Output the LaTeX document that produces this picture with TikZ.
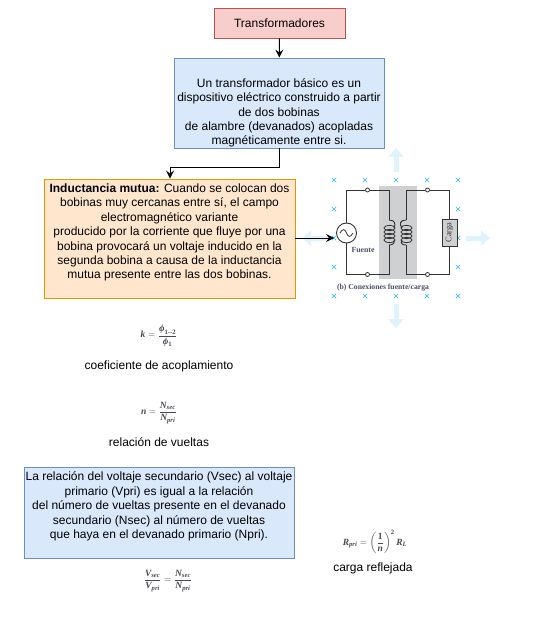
\documentclass[tikz,border=0pt]{standalone}
\usepackage{amsmath}
\usepackage{fontspec}
\setmainfont{Liberation Sans}
\newfontfamily\serifcap{Liberation Serif}
\usetikzlibrary{arrows.meta}
\definecolor{redfill}{HTML}{F8CECC}\definecolor{redline}{HTML}{B85450}
\definecolor{bluefill}{HTML}{DAE8FC}\definecolor{blueline}{HTML}{6C8EBF}
\definecolor{orfill}{HTML}{FFE6CC}\definecolor{orline}{HTML}{D79B00}
\definecolor{handle}{HTML}{29B6F2}\definecolor{hint}{HTML}{DFF3FC}
\definecolor{coregray}{HTML}{CFD0D2}\definecolor{wire}{HTML}{333333}
\definecolor{formula}{HTML}{4A4A52}\definecolor{capt}{HTML}{4A4F6A}
\tikzset{
 x=1pt,y=-1pt,
 txt/.style={font=\fontsize{12}{14.4}\selectfont,align=center,inner sep=0pt,text=black},
 boxed/.style={txt,draw,line width=0.9pt},
 conn/.style={draw=black,line width=1pt,-{Stealth[length=8pt,width=8pt,inset=3pt]}},
 wireline/.style={draw=wire,line width=0.9pt},
 term/.style={circle,draw=wire,fill=white,line width=0.8pt,minimum size=4pt,inner sep=0pt},
 handlemark/.style={draw=handle,line width=0.5pt},
 frm/.style={font=\fontsize{9.5}{11}\selectfont,text=formula,inner sep=0pt},
 coilloop/.style={draw=wire,line width=0.8pt}
}
\newcommand{\handleX}[2]{\draw[handlemark] (#1-2.2,#2-2.2)--(#1+2.2,#2+2.2) (#1-2.2,#2+2.2)--(#1+2.2,#2-2.2);}
\newcommand{\fsym}[1]{\text{\serifcap\bfseries\itshape #1}}
\newcommand{\fnum}[1]{\text{\serifcap\bfseries #1}}
\begin{document}
\begin{tikzpicture}
\useasboundingbox (0,0) rectangle (536,620);
\fill[white] (0,0) rectangle (536,620);
% image: core and hints
\fill[coregray] (379,186) rectangle (417,279);
\foreach \a/\b/\c/\d in {396/148/396/172,396/328/396/304,302/238/327/238,490/238/466/238}{
 \draw[hint,line width=5pt,-{Triangle[length=9pt,width=15pt]}] (\c,\d) -- (\a,\b);
}
\foreach \x in {334,365,396,427,458}{\handleX{\x}{180}\handleX{\x}{296}}
\foreach \y in {209,238,267}{\handleX{334}{\y}\handleX{458}{\y}}
% circuit
\node[circle,draw=wire,fill=white,line width=0.9pt,minimum size=20pt,inner sep=0pt] (src) at (346.5,233) {};
\draw[wire,line width=0.8pt] (340,233) .. controls (343,228) and (345,229) .. (346.5,233) .. controls (348,237) and (350,238) .. (353,233);
\node[rectangle,draw=wire,fill=coregray,line width=0.9pt,minimum width=15pt,minimum height=27pt,inner sep=0pt] (load) at (449.5,232.5) {};
\node[rotate=90,font=\serifcap\fontsize{8.5}{10}\selectfont,text=wire,inner sep=0pt] (loadtxt) at (449.5,232.5) {Carga};
\node[term] (t1) at (367.5,190) {};
\node[term] (t2) at (427.5,190) {};
\node[term] (t3) at (367.5,274.5) {};
\node[term] (t4) at (427.5,274.5) {};
\coordinate (ltop) at (389,220); \coordinate (lbot) at (389,245);
\coordinate (rtop) at (406,220); \coordinate (rbot) at (406,245);
\draw[wireline] (src.north) -- (346.5,190) -- (t1.west);
\draw[wireline] (t1.east) -- (389,190) -- (ltop);
\draw[wireline] (src.south) -- (346.5,274.5) -- (t3.west);
\draw[wireline] (t3.east) -- (389,274.5) -- (lbot);
\draw[wireline] (rtop) -- (406,190) -- (t2.west);
\draw[wireline] (t2.east) -- (449.5,190) -- (load.north);
\draw[wireline] (rbot) -- (406,274.5) -- (t4.west);
\draw[wireline] (t4.east) -- (449.5,274.5) -- (load.south);
\foreach \y in {228,232,236,240}{
 \draw[coilloop] (389.5,\y) ellipse [x radius=5.5,y radius=2.7];
 \draw[coilloop] (406.5,\y) ellipse [x radius=5.5,y radius=2.7];
}
\draw[wireline] (ltop) .. controls (395,220) and (396,224) .. (394,228);
\draw[wireline] (lbot) .. controls (393,245) and (395,243) .. (394,240);
\draw[wireline] (rtop) .. controls (400,220) and (399,224) .. (402,228);
\draw[wireline] (rbot) .. controls (402,245) and (400,243) .. (402,240);
\node[font=\serifcap\bfseries\fontsize{7.8}{10}\selectfont,text=capt,inner sep=0pt] (fuente) at (363,250) {Fuente};
\node[font=\serifcap\bfseries\fontsize{7.7}{10}\selectfont,text=capt,inner sep=0pt] (caption) at (383,288) {(b) Conexiones fuente/carga};
% boxes
\node[boxed,fill=redfill,draw=redline,minimum width=131pt,minimum height=30pt] (title) at (279.5,23) {Transformadores};
\node[boxed,fill=bluefill,draw=blueline,minimum width=210pt,minimum height=90pt] (intro) at (279,103) {\phantom{X}\\[6pt]Un transformador básico es un\\dispositivo eléctrico construido a partir\\de dos bobinas\\de alambre (devanados) acopladas\\magnéticamente entre si.};
\node[boxed,fill=orfill,draw=orline,minimum width=251pt,minimum height=119pt] (mutual) at (169.5,238.5) {\textbf{Inductancia mutua:} Cuando se colocan dos\\bobinas muy cercanas entre sí, el campo\\electromagnético variante\\producido por la corriente que fluye por una\\bobina provocará un voltaje inducido en la\\segunda bobina a causa de la inductancia\\mutua presente entre las dos bobinas.\\\mbox{}};
\node[boxed,fill=bluefill,draw=blueline,minimum width=270pt,minimum height=91pt] (ratio) at (159,512.5) {La relación del voltaje secundario (Vsec) al voltaje\\primario (Vpri) es igual a la relación\\del número de vueltas presente en el devanado\\secundario (Nsec) al número de vueltas\\que haya en el devanado primario (Npri).\\\mbox{}};
\coordinate (imgin) at (334,238);
\draw[conn] (title) -- (intro);
\draw[conn] (intro.south) -- (279,168) -- (170,168) -- (170,0 |- mutual.north);
\draw[conn] (mutual.east |- imgin) -- (imgin);
% formulas
\node[frm] (fk) at (159,336) {$\fsym{k}=\dfrac{\fsym{ϕ}_{\fnum{1--2}}}{\fsym{ϕ}_{\fnum{1}}}$};
\node[txt] (lk) at (159,366) {coeficiente de acoplamiento};
\node[frm] (fn) at (159,413) {$\fsym{n}=\dfrac{\fsym{N}_{\fsym{sec}}}{\fsym{N}_{\fsym{pri}}}$};
\node[txt] (ln) at (159,442) {relación de vueltas};
\node[frm] (fv) at (168,581) {$\dfrac{\fsym{V}_{\fsym{sec}}}{\fsym{V}_{\fsym{pri}}}=\dfrac{\fsym{N}_{\fsym{sec}}}{\fsym{N}_{\fsym{pri}}}$};
\node[frm] (fr) at (375,542) {$\fsym{R}_{\fsym{pri}}=\left(\dfrac{\fnum{1}}{\fsym{n}}\right)^{\fnum{2}}\fsym{R}_{\fsym{L}}$};
\node[txt] (lr) at (373,568) {carga reflejada};
\end{tikzpicture}
\end{document}
